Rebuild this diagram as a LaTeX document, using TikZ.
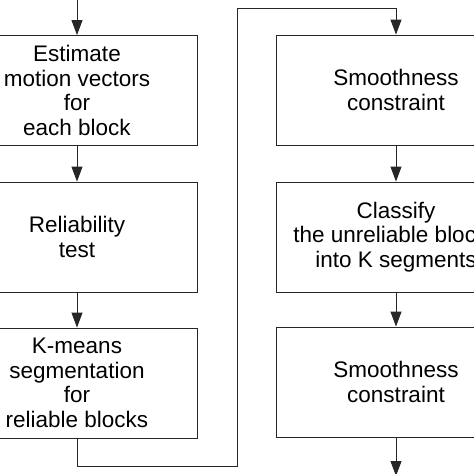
\documentclass[tikz,border=0pt]{standalone}
\usepackage{fontspec}
\setmainfont{Liberation Sans}
\usetikzlibrary{arrows.meta}
\begin{document}
\begin{tikzpicture}[x=1pt,y=1pt,
  box/.style={draw=black!85, line width=0.9pt, minimum width=240pt, minimum height=110pt,
    align=center, font=\fontsize{22.5}{24.5}\selectfont, inner sep=0pt},
  arr/.style={draw=black!85, line width=0.9pt, -{Triangle[length=15pt,width=11pt]}},
  ln/.style={draw=black!85, line width=0.9pt}]
\useasboundingbox (0,0) rectangle (474,-474);
\clip (0,0) rectangle (474,-474);
\node[box] (a1) at (77,-90.5) {Estimate\\motion vectors\\for\\each block};
\node[box] (a2) at (77,-237) {Reliability\\test};
\node[box] (a3) at (77,-383) {K-means\\segmentation\\for\\reliable blocks};
\node[box] (b1) at (396,-90) {Smoothness\\constraint};
\node[box] (b2) at (396,-237) {Classify\\the unreliable blocks\\into K segments};
\node[box] (b3) at (396,-382) {Smoothness\\constraint};
\coordinate (in) at (77,0);
\coordinate (out) at (396,-476);
\coordinate (c1) at (77,-466);
\coordinate (c2) at (237,-466);
\coordinate (c3) at (237,-8);
\coordinate (c4) at (396,-8);
\draw[arr] (in) -- (a1.north);
\draw[arr] (a1) -- (a2);
\draw[arr] (a2) -- (a3);
\draw[arr] (a3.south) -- (c1) -- (c2) -- (c3) -- (c4) -- (b1.north);
\draw[arr] (b1) -- (b2);
\draw[arr] (b2) -- (b3);
\draw[arr] (b3.south) -- (out);
\end{tikzpicture}
\end{document}
